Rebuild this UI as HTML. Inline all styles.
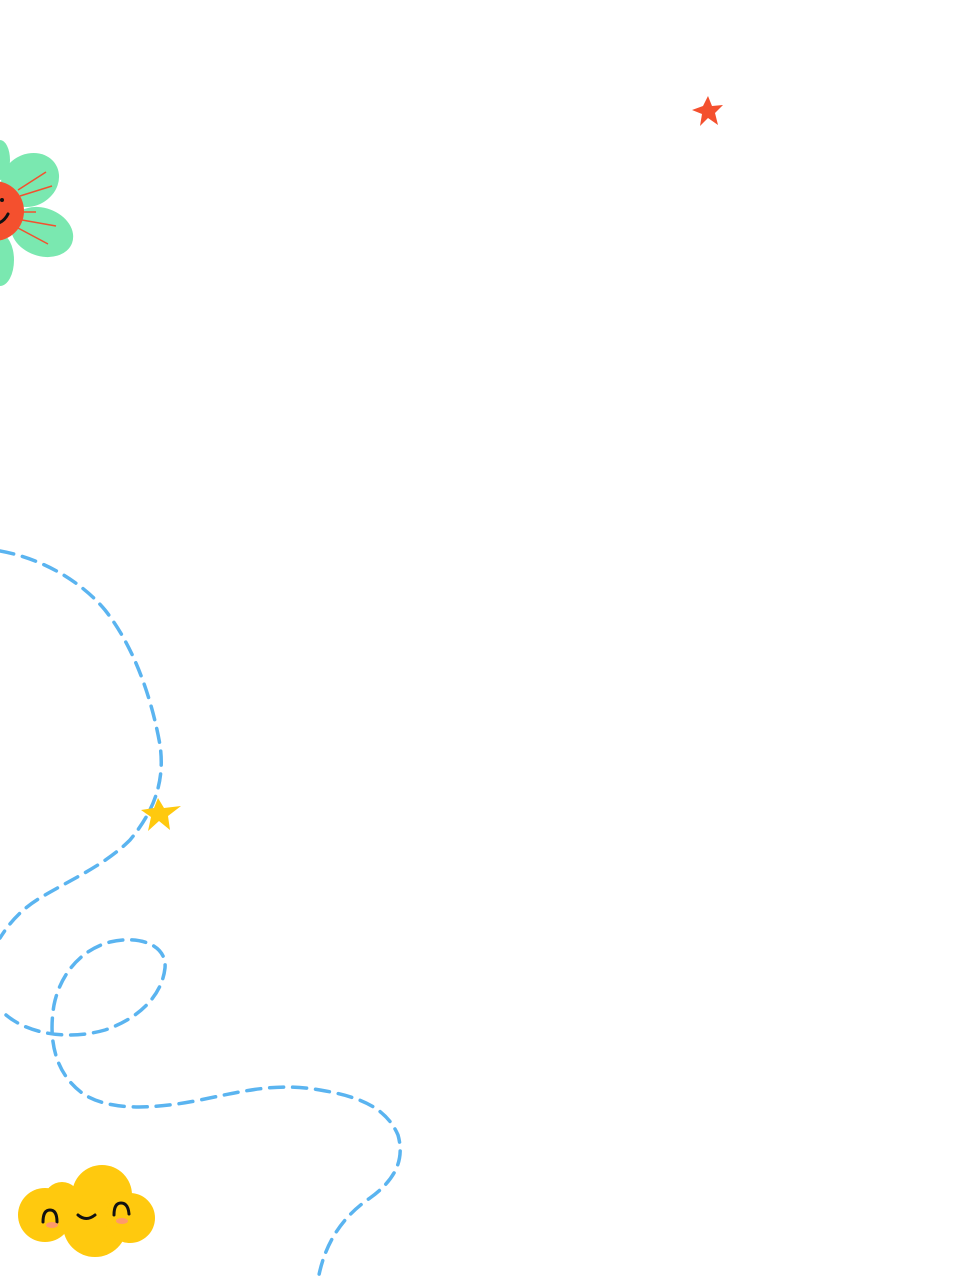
<!DOCTYPE html>
<html><head><meta charset="utf-8"><style>
html,body{margin:0;padding:0;background:#fff;}
svg{display:block}
</style></head><body>
<svg width="960" height="1280" viewBox="0 0 960 1280" xmlns="http://www.w3.org/2000/svg">
<!-- dashed path -->
<path d="M0,551 C40,558 80,580 105,610 C135,648 152,700 160,745 C165,780 155,810 130,840 C105,865 70,880 40,898 C20,910 8,925 0,938" fill="none" stroke="#5ab4f0" stroke-width="3.5" stroke-dasharray="14,9" stroke-linecap="round"/>
<path d="M6,1015 C30,1035 70,1040 105,1030 C140,1018 162,995 165,968 C167,945 140,935 110,942 C80,950 60,975 54,1005 C48,1040 55,1075 85,1095 C110,1110 150,1110 200,1100 C240,1092 275,1082 320,1090 C355,1096 385,1105 398,1135 C405,1160 395,1180 370,1198 C345,1215 325,1240 318,1280" fill="none" stroke="#5ab4f0" stroke-width="3.5" stroke-dasharray="14,9" stroke-linecap="round"/>
<!-- flower -->
<g>
<ellipse cx="30" cy="180" rx="30" ry="26" fill="#7ae8b0" transform="rotate(-30 30 180)"/>
<ellipse cx="42" cy="232" rx="32" ry="24" fill="#7ae8b0" transform="rotate(20 42 232)"/>
<ellipse cx="0" cy="260" rx="14" ry="26" fill="#7ae8b0"/>
<ellipse cx="0" cy="160" rx="10" ry="20" fill="#7ae8b0"/>
<circle cx="-6" cy="211" r="30" fill="#f4502e"/>
<path d="M-4,224 Q4,222 8,214" stroke="#111" stroke-width="3" fill="none" stroke-linecap="round"/>
<circle cx="2" cy="200" r="2" fill="#111"/>
<g stroke="#f4502e" stroke-width="1.5">
<line x1="18" y1="190" x2="46" y2="172"/><line x1="20" y1="196" x2="52" y2="186"/>
<line x1="22" y1="220" x2="56" y2="226"/><line x1="18" y1="228" x2="48" y2="244"/>
<line x1="22" y1="212" x2="36" y2="212"/>
</g>
</g>
<!-- red star -->
<polygon points="708,96 712,106 723,105 715,113 718,125 708,118 700,126 702,114 692,110 703,106" fill="#f4502e"/>
<!-- yellow star -->
<polygon points="158,798 164,808 181,806 168,816 170,830 159,821 148,831 151,817 141,810 154,808" fill="#ffc90e"/>
<!-- cloud -->
<g fill="#ffc90e">
<circle cx="102" cy="1195" r="30"/>
<circle cx="62" cy="1200" r="18"/>
<circle cx="45" cy="1215" r="27"/>
<circle cx="95" cy="1225" r="32"/>
<circle cx="130" cy="1218" r="25"/>
</g>
<g stroke="#111" stroke-width="3" fill="none" stroke-linecap="round">
<path d="M43,1222 Q43,1210 50,1210 Q57,1210 57,1222"/>
<path d="M114,1215 Q114,1203 121,1203 Q128,1203 129,1214"/>
<path d="M78,1215 Q86,1222 95,1215"/>
</g>
<ellipse cx="52" cy="1225" rx="6" ry="3" fill="#ff9a6a"/>
<ellipse cx="122" cy="1221" rx="6" ry="3" fill="#ff9a6a"/>
</svg>
</body></html>
